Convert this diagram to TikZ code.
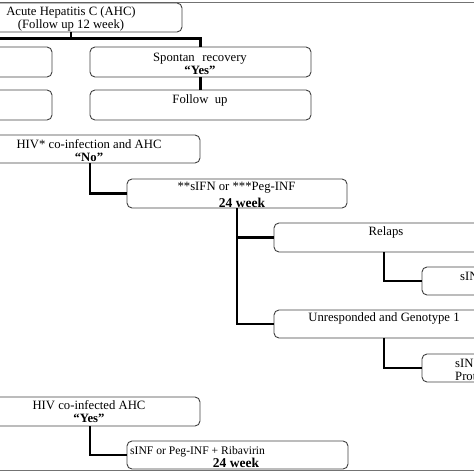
\documentclass[tikz,border=0pt]{standalone}
\usepackage{fontspec}
\setmainfont{Liberation Serif}
\begin{document}
\begin{tikzpicture}[x=1pt,y=-1pt,
  box/.style={draw=black!75, line width=0.9pt, rounded corners=5pt,
    minimum width=#1, minimum height=29pt, inner sep=0pt, outer sep=0pt},
  box/.default=221pt,
  conn/.style={draw=black, line width=2.3pt},
  txt/.style={font=\fontsize{12.7}{13}\selectfont, align=center, inner sep=0pt},
  smalltxt/.style={font=\fontsize{11.6}{12}\selectfont, inner sep=0pt},
  boldtxt/.style={font=\fontsize{13.5}{14}\selectfont\bfseries, inner sep=0pt},
  frame/.style={draw=black!55, line width=1pt}]
\useasboundingbox (0,0) rectangle (474,474);
\clip (0,0) rectangle (474,474);

% frame lines
\draw[frame] (0,2) -- (474,2);
\draw[frame] (0,470.5) -- (474,470.5);

% boxes
\node[box=222pt] (ahc) at (71,17.5) {};
\node[box=222pt, minimum height=30pt] (left1) at (-59,62) {};
\node[box=221pt, minimum height=30pt] (spont) at (200.5,62) {};
\node[box=222pt, minimum height=30pt] (left2) at (-59,105) {};
\node[box=221pt, minimum height=30pt] (follow) at (200.5,105) {};
\node[box=220pt, minimum height=28pt] (hivno) at (90,149) {};
\node[box=220pt] (sifn) at (237,193.5) {};
\node[box=224pt] (relaps) at (386,237.5) {};
\node[box=220pt, minimum height=28pt] (sin1) at (532,281) {};
\node[box=224pt, minimum height=28pt] (unresp) at (386,324) {};
\node[box=220pt, minimum height=28pt] (sin2) at (532,368) {};
\node[box=220pt] (hivyes) at (90,411.5) {};
\node[box=221pt, minimum height=28pt] (sinf) at (237.5,455) {};

% texts
\node[txt] (tahc) at (71,18.5) {Acute Hepatitis C (AHC)\\(Follow up 12 week)};
\node[txt] (tspont) at (200,63.5) {Spontan\hspace{0.6em}recovery\\\textbf{“Yes”}};
\node[txt] (tfollow) at (200,100) {Follow\hspace{0.5em}up};
\node[txt] (thivno) at (89,150.5) {HIV* co-infection and AHC\\\textbf{“No”}};
\node[txt] (tsifn1) at (236.5,188) {**sIFN or ***Peg-INF};
\node[boldtxt] (tsifn2) at (242,202.5) {24 week};
\node[txt] (trelaps) at (386,232) {Relaps};
\node[txt, anchor=west] (tsin1) at (460,276.5) {sIN};
\node[txt] (tunresp) at (384,318.5) {Unresponded and Genotype 1};
\node[txt, anchor=west, align=left] (tsin2) at (455,369.5) {sIN\\Prot};
\node[txt] (thivyes) at (89,412) {HIV co-infected AHC\\\textbf{“Yes”}};
\node[smalltxt, anchor=west] (tsinf1) at (130,452) {sINF or Peg-INF + Ribavirin};
\node[boldtxt] (tsinf2) at (236,462.5) {24 week};

% connectors
\coordinate (bus) at (0,38.5);
\draw[conn] (ahc.south) -- (ahc.south |- bus);
\draw[conn] (left1.north) |- (bus -| spont.north) -- (spont.north);
\draw[conn] (spont.south) -- (follow.north);
\draw[conn] (hivno.south) |- (sifn.west);
\draw[conn] (sifn.south) |- (relaps.west);
\draw[conn] (sifn.south) |- (unresp.west);
\draw[conn] ([xshift=-2pt]relaps.south) |- (sin1.west);
\draw[conn] ([xshift=-2pt]unresp.south) |- (sin2.west);
\draw[conn] (hivyes.south) |- (sinf.west);
\end{tikzpicture}
\end{document}
